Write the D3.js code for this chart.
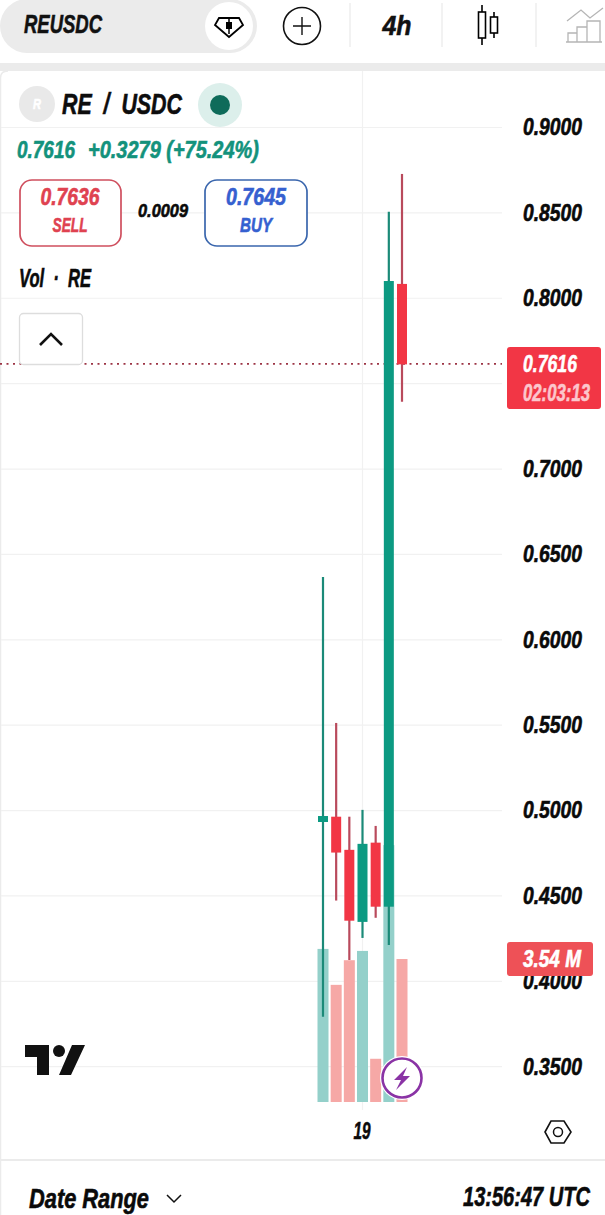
<!DOCTYPE html>
<html>
<head>
<meta charset="utf-8">
<script src="https://cdn.jsdelivr.net/npm/d3@7"></script>
<style>
	html, body { margin: 0; padding: 0; background: #fff; }
	svg { display: block; }
	text { font-family: "Liberation Sans Narrow", "Liberation Sans", sans-serif; font-weight: 700; font-style: italic; }
</style>
</head>
<body>
<svg id="chart" width="605" height="1215" viewBox="0 0 605 1215"></svg>
<script>
const candle_days = [0, 1, 2, 3, 4, 5, 6];
const opens = [0.4933, 0.4964, 0.4770, 0.4348, 0.4812, 0.4437, 0.8084];
const closes = [0.4968, 0.4754, 0.4355, 0.4805, 0.4437, 0.8101, 0.7613];
const highs = [0.6368, 0.5513, 0.4964, 0.5004, 0.4910, 0.8507, 0.8728];
const lows = [0.3792, 0.4473, 0.4125, 0.4254, 0.4372, 0.4213, 0.7394];
const volumes = [3.79, 2.90, 3.51, 3.74, 1.07, 6.36, 3.54];
const price_ticks = [0.35, 0.40, 0.45, 0.50, 0.55, 0.60, 0.65, 0.70, 0.75, 0.80, 0.85, 0.90];
const hidden_tick = 0.75; // covered by the last price box
const last_price = 0.7616;

const GREEN = "#0c9a82", RED = "#f23645";
const WICK_GREEN = "#1b8a78", WICK_RED = "#b94a5c";
const VOL_GREEN = "#94d0ca", VOL_RED = "#f6a8a6";
const GRID = "#f1f1f1", BAND = "#ebebeb";

const svg = d3.select("#chart");

const y = d3.scaleLinear().domain([0.35, 0.90]).range([1066.7, 127.5]);
const x = d3.scalePoint().domain(candle_days).range([323, 402]);
const vol_y = d3.scaleLinear().domain([0, 3.54]).range([1102, 959]);

function label(parent, px, py, str, size, fill, width, anchor) {
	const t = parent.append("text")
		.attr("x", px)
		.attr("y", py)
		.attr("dy", ".35em")
		.attr("font-size", size)
		.attr("fill", fill)
		.attr("stroke", fill)
		.attr("stroke-width", 0.6)
		.attr("text-anchor", anchor || "start")
		.text(str);
	if (width) {
		t.attr("textLength", width).attr("lengthAdjust", "spacingAndGlyphs");
	}
	return t;
}

// Chrome: top bar and panel
const bar = svg.append("g");
bar.append("rect").attr("x", 0).attr("y", -1).attr("width", 257).attr("height", 54).attr("rx", 27).attr("fill", "#ebebeb");
bar.append("circle").attr("cx", 229).attr("cy", 26).attr("r", 24).attr("fill", "#fff");
bar.append("path").attr("d", "M219 18 L239 18 L243 25 L229 37 L215 25 Z").attr("fill", "none").attr("stroke", "#000").attr("stroke-width", 1.8);
bar.append("rect").attr("x", 226).attr("y", 22).attr("width", 6).attr("height", 7).attr("fill", "#000");
bar.append("line").attr("x1", 229).attr("x2", 229).attr("y1", 18).attr("y2", 34).attr("stroke", "#000").attr("stroke-width", 1.5);
label(bar, 24, 24, "REUSDC", 26, "#111", 78);
bar.append("circle").attr("cx", 302).attr("cy", 26).attr("r", 18.5).attr("fill", "none").attr("stroke", "#111").attr("stroke-width", 1.6);
bar.append("path").attr("d", "M302 17 V35 M293 26 H311").attr("stroke", "#111").attr("stroke-width", 1.4);
[350, 442, 536].forEach(sx => {
	bar.append("line").attr("x1", sx).attr("x2", sx).attr("y1", 3).attr("y2", 47).attr("stroke", "#eeeeee").attr("stroke-width", 1.5);
});
label(bar, 397, 25, "4h", 28, "#111", 29, "middle");
bar.append("path").attr("d", "M482 5 V12 M482 38 V45 M494 12 V17 M494 33 V38").attr("stroke", "#000").attr("stroke-width", 1.6);
bar.append("rect").attr("x", 478.5).attr("y", 12).attr("width", 7).attr("height", 26).attr("fill", "none").attr("stroke", "#000").attr("stroke-width", 1.6);
bar.append("rect").attr("x", 490.5).attr("y", 17).attr("width", 7).attr("height", 16).attr("fill", "none").attr("stroke", "#000").attr("stroke-width", 1.6);
bar.append("path").attr("d", "M567 21 L581 10 L590 18 L603 8 M568 42 V33 H577 V42 M577 42 V27 H587 V42 M587 42 V21 H600 V42 M566 42 H602")
	.attr("fill", "none").attr("stroke", "#b5b5b5").attr("stroke-width", 1.3);

svg.append("rect").attr("x", 0).attr("y", 63).attr("width", 605).attr("height", 8).attr("fill", BAND);
svg.append("path").attr("d", "M0.5 1215 V78 Q0.5 71 8 71").attr("fill", "none").attr("stroke", BAND).attr("stroke-width", 1.5);
svg.append("line").attr("x1", 0).attr("x2", 605).attr("y1", 1160).attr("y2", 1160).attr("stroke", BAND).attr("stroke-width", 2);

// Grid
const grid = svg.append("g");
grid.selectAll("line.h").data(price_ticks).enter().append("line")
	.attr("class", "h")
	.attr("x1", 1).attr("x2", 502)
	.attr("y1", d => y(d)).attr("y2", d => y(d))
	.attr("stroke", GRID).attr("stroke-width", 1.2);
grid.append("line").attr("x1", 362.5).attr("x2", 362.5).attr("y1", 71).attr("y2", 1110)
	.attr("stroke", GRID).attr("stroke-width", 1.2);

// Price axis
const price_axis = d3.axisRight(y)
	.tickValues(price_ticks.filter(d => d !== hidden_tick))
	.tickSize(0)
	.tickPadding(0)
	.tickFormat(d3.format(".4f"));
const axis_g = svg.append("g").attr("transform", "translate(523,0)").call(price_axis);
axis_g.select(".domain").remove();
axis_g.selectAll("text")
	.attr("x", 0)
	.attr("font-size", 23)
	.attr("fill", "#0a0a0a")
	.attr("stroke", "#0a0a0a")
	.attr("stroke-width", 0.6)
	.attr("textLength", 59)
	.attr("lengthAdjust", "spacingAndGlyphs")
	.style("font-family", '"Liberation Sans Narrow", sans-serif');

// Volume
svg.append("g").selectAll("rect").data(candle_days).enter().append("rect")
	.attr("x", d => x(d) - 5.5)
	.attr("width", 11)
	.attr("y", d => vol_y(volumes[d]))
	.attr("height", d => vol_y(0) - vol_y(volumes[d]))
	.attr("fill", d => closes[d] >= opens[d] ? VOL_GREEN : VOL_RED);

// Last price line
svg.append("line").attr("x1", 0).attr("x2", 502).attr("y1", y(last_price)).attr("y2", y(last_price))
	.attr("stroke", "#9c3344").attr("stroke-width", 1.6).attr("stroke-dasharray", "2 4.5");

// Candles
const candles = svg.append("g");
candles.selectAll("line").data(candle_days).enter().append("line")
	.attr("x1", d => x(d)).attr("x2", d => x(d))
	.attr("y1", d => y(highs[d])).attr("y2", d => y(lows[d]))
	.attr("stroke", d => closes[d] >= opens[d] ? WICK_GREEN : WICK_RED)
	.attr("stroke-width", 2.2);
candles.selectAll("rect").data(candle_days).enter().append("rect")
	.attr("x", d => x(d) - 5)
	.attr("width", 10)
	.attr("y", d => y(Math.max(opens[d], closes[d])))
	.attr("height", d => Math.abs(y(opens[d]) - y(closes[d])))
	.attr("fill", d => closes[d] >= opens[d] ? GREEN : RED);

// Legend block
const legend = svg.append("g");
legend.append("circle").attr("cx", 37).attr("cy", 104).attr("r", 18).attr("fill", "#e9e9e9");
label(legend, 37, 104, "R", 15, "#fff", 8, "middle");
label(legend, 62, 103, "RE \u00a0/\u00a0 USDC", 30, "#0d0d0d", 120);
legend.append("circle").attr("cx", 220).attr("cy", 105).attr("r", 22).attr("fill", "#dcefeb");
legend.append("circle").attr("cx", 220).attr("cy", 105).attr("r", 10).attr("fill", "#0e6b5a");
label(legend, 17, 150, "0.7616", 24, "#13927c", 58);
label(legend, 88, 150, "+0.3279 (+75.24%)", 24, "#13927c", 171);

legend.append("rect").attr("x", 20).attr("y", 180).attr("width", 101).attr("height", 66).attr("rx", 12)
	.attr("fill", "#fff").attr("stroke", "#cf4f5e").attr("stroke-width", 1.7);
label(legend, 70, 197, "0.7636", 23, "#df4250", 59, "middle");
label(legend, 70, 225, "SELL", 21, "#df4250", 35, "middle");
label(legend, 138, 211, "0.0009", 18, "#0a0a0a", 50);
legend.append("rect").attr("x", 205).attr("y", 180).attr("width", 102).attr("height", 66).attr("rx", 12)
	.attr("fill", "#fff").attr("stroke", "#3a66ad").attr("stroke-width", 1.7);
label(legend, 256, 197, "0.7645", 23, "#3560d0", 60, "middle");
label(legend, 256, 225, "BUY", 21, "#3560d0", 32, "middle");
label(legend, 19, 278, "Vol \u00a0·\u00a0 RE", 25, "#0a0a0a", 72);

legend.append("rect").attr("x", 19.5).attr("y", 313.5).attr("width", 63).attr("height", 51).attr("rx", 4)
	.attr("fill", "#fff").attr("stroke", "#dddddd").attr("stroke-width", 1.3);
legend.append("path").attr("d", "M40 345 L51 334 L62 345").attr("fill", "none").attr("stroke", "#111").attr("stroke-width", 2.6);

// Price and volume tags
svg.append("rect").attr("x", 507).attr("y", 347).attr("width", 94).attr("height", 62).attr("rx", 3).attr("fill", RED);
label(svg, 523, 364, "0.7616", 24, "#fff", 54);
label(svg, 523, 393, "02:03:13", 24, "#fcc6cc", 67);
svg.append("rect").attr("x", 507).attr("y", 942).attr("width", 86).attr("height", 34).attr("rx", 3).attr("fill", "#ee5157");
label(svg, 523, 959, "3.54 M", 23, "#fff", 58);

// TradingView mark
svg.append("path").attr("d", "M25 1045 H49 V1075 H37 V1057 H25 Z M59 1075 L72 1045 H85 L71 1075 Z").attr("fill", "#111");
svg.append("circle").attr("cx", 59).attr("cy", 1051).attr("r", 6).attr("fill", "#111");

// Bolt badge
svg.append("circle").attr("cx", 402).attr("cy", 1078).attr("r", 22).attr("fill", "#fff");
svg.append("circle").attr("cx", 402).attr("cy", 1078).attr("r", 19.5).attr("fill", "#fff").attr("stroke", "#8a33a5").attr("stroke-width", 2.6);
svg.append("path").attr("d", "M407 1067 L394 1080 H401 L396 1090 L410 1076 H403 Z").attr("fill", "#8a33a5");

// Time axis and bottom row
label(svg, 362, 1131, "19", 24, "#0a0a0a", 17, "middle");
svg.append("path").attr("d", "M545 1132 L551 1121 H564 L571 1132 L564 1143 H551 Z").attr("fill", "none").attr("stroke", "#111").attr("stroke-width", 1.6);
svg.append("circle").attr("cx", 558).attr("cy", 1132).attr("r", 4.5).attr("fill", "none").attr("stroke", "#111").attr("stroke-width", 1.5);
label(svg, 29, 1198, "Date Range", 28, "#0a0a0a", 120);
svg.append("path").attr("d", "M167 1195 L174 1202 L181 1195").attr("fill", "none").attr("stroke", "#111").attr("stroke-width", 1.5);
label(svg, 463, 1197, "13:56:47 UTC", 27, "#0a0a0a", 127);
</script>
</body>
</html>
